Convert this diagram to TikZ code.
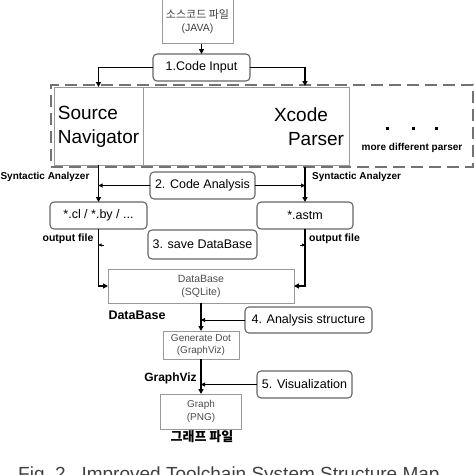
\documentclass[tikz,border=0pt]{standalone}
\usepackage{fontspec}
\setmainfont{Liberation Sans}
\newfontfamily\krfont{Noto Sans CJK KR}
\usetikzlibrary{arrows.meta}
\begin{document}
\begin{tikzpicture}[x=1pt,y=-1pt,
  flow/.style={line width=1.8pt, -{Triangle[length=5pt,width=5pt]}},
  thinarrow/.style={line width=0.9pt, -{Triangle[length=4pt,width=4pt]}},
  gbox/.style={draw=black!40, line width=0.8pt, inner sep=0pt, outer sep=0pt, align=center, text=black!70, font=\fontsize{10.5}{13}\selectfont},
  rbox/.style={draw=black!60, line width=1.1pt, rounded corners=4pt, inner sep=0pt, outer sep=0pt, fill=white, font=\fontsize{12.5}{14}\selectfont},
  lbl/.style={font=\bfseries\fontsize{10}{12}\selectfont, inner sep=0pt},
  big/.style={font=\fontsize{19}{24}\selectfont, inner sep=0pt},
]
\useasboundingbox (0,0) rectangle (474,475);
\clip (0,0) rectangle (474,475);

% top source box
\node[gbox, minimum width=71pt, minimum height=44pt, text=black!75] (src) at (197.5,21.5)
  {{\krfont\fontsize{11}{13}\selectfont 소스코드 파일}\\(JAVA)};

\node[rbox, minimum width=97pt, minimum height=27pt] (ci) at (201.5,67.5) {1.Code Input};

% dashed parser frame
\node[draw=black!55, line width=1.8pt, dash pattern=on 12pt off 6pt, minimum width=422pt, minimum height=82pt, inner sep=0pt] (frame) at (262,126) {};
\node[gbox, minimum width=89pt, minimum height=78pt] (sn) at (98.5,126) {};
\node[gbox, minimum width=206pt, minimum height=78pt] (xp) at (246,126) {};
\node[big, align=left] (sntext) at (98.5,127) {Source\\Navigator};
\node[big] (xcode) at (301,115) {Xcode};
\node[big] (parser) at (316,139) {Parser};
\node[fill=black, minimum size=3pt, inner sep=0pt] (d1) at (387,128) {};
\node[fill=black, minimum size=3pt, inner sep=0pt] (d2) at (413,128) {};
\node[fill=black, minimum size=3pt, inner sep=0pt] (d3) at (436,128) {};
\node[lbl] (more) at (412,148) {more different parser};

\coordinate (xin) at (305,86);
\coordinate (xout) at (305,167);

\node[lbl] (syn1) at (45,177) {Syntactic Analyzer};
\node[lbl, anchor=west] (syn2) at (312,177) {Syntactic Analyzer};

\node[rbox, minimum width=105pt, minimum height=27pt] (ca) at (202.5,185.5) {2. Code Analysis};

\node[rbox, minimum width=97pt, minimum height=27pt] (f1) at (98.5,215.5) {*.cl / *.by / ...};
\node[rbox, minimum width=96pt, minimum height=27pt] (f2) at (305,215.5) {*.astm};

\node[rbox, minimum width=109pt, minimum height=29pt] (sd) at (202.5,244.5) {3. save DataBase};

\node[lbl, font=\bfseries\fontsize{10.5}{12}\selectfont] (of1) at (68,239) {output file};
\node[lbl, font=\bfseries\fontsize{10.5}{12}\selectfont] (of2) at (334.5,239) {output file};

\node[gbox, minimum width=186pt, minimum height=34pt] (db) at (201,286) {DataBase\\(SQLite)};
\node[lbl, font=\bfseries\fontsize{12.5}{14}\selectfont] (dbl) at (137,315) {DataBase};

\node[rbox, minimum width=127pt, minimum height=26pt] (as) at (308.5,320) {4. Analysis structure};

\node[gbox, minimum width=76pt, minimum height=28pt, font=\fontsize{10}{11.5}\selectfont] (gd) at (201,345) {Generate Dot\\(GraphViz)};
\node[lbl, font=\bfseries\fontsize{12}{14}\selectfont] (gvl) at (170.5,378) {GraphViz};

\node[rbox, minimum width=95pt, minimum height=27pt] (vz) at (304.5,384.5) {5. Visualization};

\node[gbox, minimum width=81pt, minimum height=35pt, font=\fontsize{10}{13}\selectfont] (gr) at (201,411.5) {Graph\\(PNG)};
\node[inner sep=0pt, font=\krfont\bfseries\fontsize{13}{15}\selectfont] (grl) at (202,437) {그래프 파일};

\node[anchor=north west, inner sep=0pt, text=black!75, font=\fontsize{19}{22}\selectfont] (cap) at (18,467)
  {Fig.\ 2.\ \ Improved Toolchain System Structure Map};

% connectors
\draw[flow] (ci.north |- src.south) -- (ci.north);
\draw[flow] (ci.west) -| (sn.north);
\draw[flow] (ci.east) -| (xin);
\draw[flow] (sn.south) -- (f1.north);
\draw[flow] (xout) -- (f2.north);
\draw[thinarrow] (ca.west) -- (ca.west -| sn.south);
\draw[thinarrow] (ca.east) -- (ca.east -| f2.north);
\draw[flow] (f1.south) |- (db.west);
\draw[flow] (f2.south) |- (db.east);
\coordinate (t1a) at (104,245);
\coordinate (t2a) at (300,245);
\draw[line width=0.6pt, -{Triangle[length=3pt,width=3pt]}] (t1a) -- (t1a -| f1.south);
\draw[line width=0.6pt, -{Triangle[length=3pt,width=3pt]}] (t2a) -- (t2a -| f2.south);
\draw[flow] (db.south) -- (gd.north);
\draw[thinarrow] (as.west) -- (as.west -| db.south);
\draw[flow] (gd.south) -- (gr.north);
\draw[thinarrow] (vz.west) -- (vz.west -| gd.south);
\end{tikzpicture}
\end{document}
